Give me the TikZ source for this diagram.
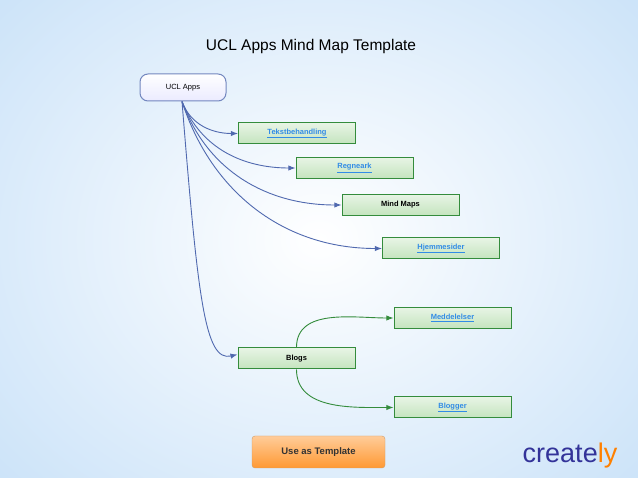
\documentclass[tikz,border=0pt]{standalone}
\usepackage{fontspec}
\setmainfont{Liberation Sans}
\usetikzlibrary{arrows.meta,positioning,calc}
\definecolor{bgblue}{RGB}{200,225,248}
\definecolor{boxgreen}{RGB}{52,140,60}
\definecolor{boxfill}{RGB}{196,228,190}
\definecolor{edgeblue}{RGB}{80,105,175}
\definecolor{linkblue}{RGB}{50,140,230}
\tikzset{>=Latex,
  topic/.style={draw=boxgreen,line width=1pt,top color=boxfill!40,bottom color=boxfill,
    minimum width=117pt,minimum height=21pt,inner sep=0pt,font=\fontsize{7.5}{8}\selectfont\bfseries},
  link/.style={text=linkblue},
  blueedge/.style={->,draw=edgeblue,line width=0.9pt},
  greenedge/.style={->,draw=boxgreen,line width=0.9pt}
}
\begin{document}
\begin{tikzpicture}[x=1pt,y=-1pt]
	\useasboundingbox (0,0) rectangle (638,478);
	\clip (0,0) rectangle (638,478);
	\shade[inner color=white,outer color=bgblue] (-150,-150) rectangle (788,628);
	\node[font=\fontsize{15.5}{17}\selectfont] (title) at (311,46) {UCL Apps Mind Map Template};
	\node[draw=edgeblue!80,line width=1pt,rounded corners=8pt,top color=white,bottom color=blue!8,
	  minimum width=86pt,minimum height=27pt,font=\fontsize{7.5}{8}\selectfont] (ucl) at (183,87.5) {UCL Apps};
	
	\node[topic,link] (tekst) at (297,133.5) {\underline{Tekstbehandling}};
	\node[topic,link] (regn) at (354.5,168) {\underline{Regneark}};
	\node[topic] (mind) at (400.5,205) {Mind Maps};
	\node[topic,link] (hjem) at (441,248.5) {\underline{Hjemmesider}};
	\node[topic,link] (medd) at (452.5,318) {\underline{Meddelelser}};
	\node[topic] (blogs) at (296.5,358.5) {Blogs};
	\node[topic,link] (blogger) at (452.5,407.5) {\underline{Blogger}};
	
	\coordinate (root) at ([xshift=-1pt]ucl.south);
	\draw[blueedge] (root) to[out=-70,in=180] (tekst.west);
	\draw[blueedge] (root) to[out=-68,in=180] (regn.west);
	\draw[blueedge] (root) to[out=-70,in=180] (mind.west);
	\draw[blueedge] (root) to[out=-72,in=180] (hjem.west);
	\draw[blueedge] (root) .. controls (198,300) and (205,362) .. ([yshift=4pt]blogs.west);
	
	\draw[greenedge] (blogs.north) to[out=90,in=180] (medd.west);
	\draw[greenedge] (blogs.south) to[out=-90,in=180] (blogger.west);
	
	\node[draw=orange!70!black!60,rounded corners=3pt,top color=orange!40,bottom color=orange!80,
	  minimum width=133pt,minimum height=32pt,font=\fontsize{9.5}{10}\selectfont\bfseries,text=black!80] (button) at (318.5,452) {Use as Template};
	\node[font=\fontsize{27}{28}\selectfont,text=blue!50!black!80,anchor=base] (logo) at (570,463) {create\textcolor{orange}{ly}};
\end{tikzpicture}
\end{document}
